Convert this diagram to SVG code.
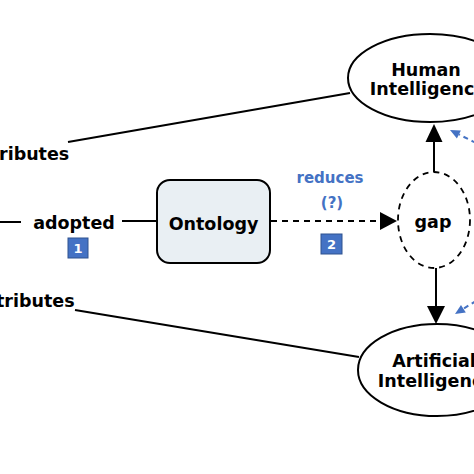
<svg xmlns="http://www.w3.org/2000/svg" width="474" height="474" viewBox="0 0 474 474">
<style>
.lbl{font-family:"DejaVu Sans","Verdana",sans-serif;font-weight:bold;font-size:17.5px;fill:#000}
.blue{font-family:"DejaVu Sans","Verdana",sans-serif;font-weight:bold;font-size:15px;fill:#4472C4}
.badge rect{fill:#4472C4;stroke:#2F528F;stroke-width:1}
.badge text{font-family:"DejaVu Sans",sans-serif;font-weight:bold;font-size:13px;fill:#fff}
.node{fill:#fff;stroke:#000;stroke-width:2}
.ln{stroke:#000;stroke-width:2;fill:none}
.dash{stroke:#000;stroke-width:2;fill:none;stroke-dasharray:6,5}
.bdash{stroke:#4472C4;stroke-width:2;fill:none;stroke-dasharray:5,4}
</style>
<rect width="474" height="474" fill="#fff"/>
<g id="connectors">
<line class="ln" x1="68" y1="142" x2="350" y2="93"/>
<line class="ln" x1="75" y1="310" x2="359" y2="357"/>
<line class="ln" x1="0" y1="222" x2="21" y2="222"/>
<line class="ln" x1="122" y1="221" x2="157" y2="221"/>
<line class="dash" x1="271" y1="221" x2="381" y2="221"/>
<polygon points="397,221 380,212 380,230" fill="#000"/>
<line class="ln" x1="434" y1="172" x2="434" y2="141"/>
<polygon points="434,124 425.5,142 442.5,142" fill="#000"/>
<line class="ln" x1="436" y1="268" x2="436" y2="307"/>
<polygon points="427,306 445,306 436,324" fill="#000"/>
<line class="bdash" x1="476" y1="143" x2="459" y2="134.5"/>
<polygon points="450,130 460.9,130.5 456.9,138.5" fill="#4472C4"/>
<line class="bdash" x1="476" y1="301" x2="463" y2="309"/>
<polygon points="455,314 465.8,312.5 461,304.9" fill="#4472C4"/>
</g>
<g id="attr-top"><text class="lbl" x="-1" y="160">ributes</text></g>
<g id="attr-bottom"><text class="lbl" x="-4" y="307">tributes</text></g>
<g id="adopted">
<text class="lbl" x="74" y="229" text-anchor="middle">adopted</text>
</g>
<g id="badge1" class="badge">
<rect x="68" y="238" width="20" height="20"/>
<text x="78" y="253" text-anchor="middle">1</text>
</g>
<g id="ontology">
<rect x="157" y="180" width="113" height="83" rx="13" fill="#E9EFF3" stroke="#000" stroke-width="2"/>
<text class="lbl" x="213.5" y="230" text-anchor="middle">Ontology</text>
</g>
<g id="reduces">
<text class="blue" x="330" y="183" text-anchor="middle">reduces</text>
<text class="blue" x="332" y="208" text-anchor="middle">(?)</text>
</g>
<g id="badge2" class="badge">
<rect x="321" y="234" width="21" height="20"/>
<text x="331.5" y="249" text-anchor="middle">2</text>
</g>
<g id="human">
<ellipse class="node" cx="430" cy="78" rx="82" ry="44"/>
<text class="lbl" x="426" y="76" text-anchor="middle">Human</text>
<text class="lbl" x="428" y="95" text-anchor="middle">Intelligence</text>
</g>
<g id="gap">
<ellipse cx="434" cy="220" rx="36" ry="48" fill="#fff" stroke="#000" stroke-width="1.8" stroke-dasharray="6,5"/>
<text class="lbl" x="433" y="228" text-anchor="middle">gap</text>
</g>
<g id="ai">
<ellipse class="node" cx="437" cy="370" rx="79" ry="46"/>
<text class="lbl" x="434" y="367" text-anchor="middle">Artificial</text>
<text class="lbl" x="436" y="387" text-anchor="middle">Intelligence</text>
</g>
</svg>
